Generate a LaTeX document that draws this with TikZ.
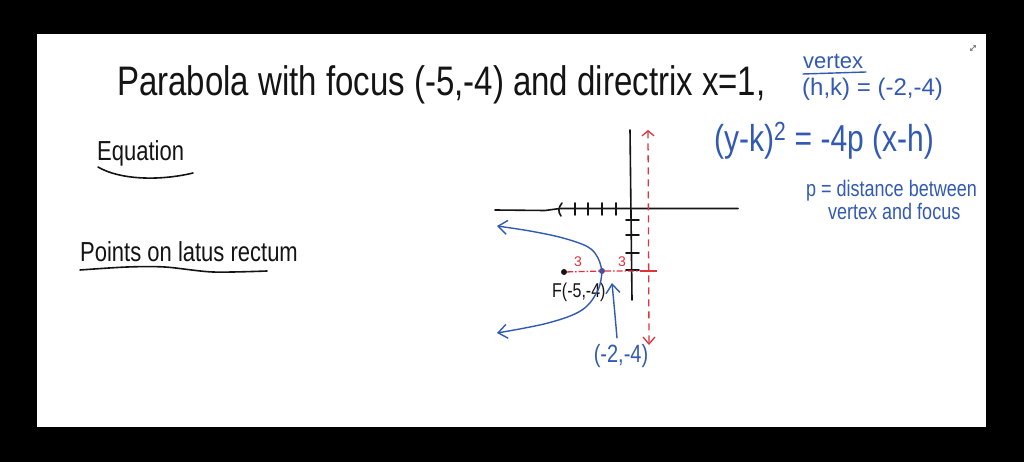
\documentclass[tikz,border=0pt]{standalone}
\usepackage{fontspec}
\setmainfont{Liberation Sans}
\usetikzlibrary{arrows.meta}
\definecolor{ink}{RGB}{20,20,20}
\definecolor{bluepen}{RGB}{50,90,180}
\definecolor{redpen}{RGB}{225,50,60}
\newcommand\handw[1]{\scalebox{1}[1.25]{#1}}
\tikzset{
  blacktext/.style={text=ink, inner sep=0pt, anchor=base west},
  bluetext/.style={text=bluepen, inner sep=0pt, anchor=base west},
  redtext/.style={text=redpen, inner sep=0pt, font=\fontsize{14}{16}\selectfont},
  blackline/.style={draw=ink, line width=1.6pt, line cap=round},
  blueline/.style={draw=bluepen, line width=1.4pt, line cap=round},
  redline/.style={draw=redpen, line width=1.3pt},
  barb/.style={-{Straight Barb[length=9pt,width=14pt]}},
  dotpt/.style={circle, inner sep=0pt, minimum size=6pt}
}
\begin{document}
\begin{tikzpicture}[x=1pt,y=-1pt]
\useasboundingbox (0,0) rectangle (1024,462);
\fill[black] (0,0) rectangle (1024,462);
\fill[white] (37,34) rectangle (986,427);
% corner icon
\draw[gray, line width=0.8pt, {Straight Barb[length=2pt,width=3pt]}-{Straight Barb[length=2pt,width=3pt]}] (970,51) -- (976,45);

% title
\node[blacktext, font=\fontsize{33}{38}\selectfont] (title) at (117,96) {\handw{Parabola with focus (-5,-4) and directrix x=1,}};

% left headings
\node[blacktext, font=\fontsize{22}{26}\selectfont] (eq) at (97,161) {\handw{Equation}};
\draw[blackline] (98,167) .. controls (120,180) and (160,181) .. (193,173);
\node[blacktext, font=\fontsize{22}{26}\selectfont] (pts) at (80,261) {\handw{Points on latus rectum}};
\draw[blackline] plot[smooth] coordinates {(80,270) (127,267) (165,267) (213,272) (267,271)};

% right blue notes
\node[bluetext, font=\fontsize{22}{26}\selectfont] (vtxw) at (803,69) {vertex};
\draw[blueline] (803,74) -- (866,72);
\node[bluetext, font=\fontsize{24}{28}\selectfont] (hk) at (802,96) {(h,k) = (-2,-4)};
\node[bluetext, font=\fontsize{30}{34}\selectfont] (std) at (714,152) {\handw{(y-k)\textsuperscript{2} = -4p (x-h)}};
\node[bluetext, font=\fontsize{18}{22}\selectfont] (pdef) at (806,197) {\handw{p = distance between}};
\node[bluetext, font=\fontsize{18}{22}\selectfont] (pdef2) at (828,219) {\handw{vertex and focus}};

% axes
\draw[blackline] (495,210) -- (545,210.5) .. controls (552,209) .. (560,208.5) -- (738,208.5);
\draw[blackline] (630,130) -- (632,300);
% x ticks
\draw[blackline] (562,203) .. controls (558,208) and (558,212) .. (561,216);
\foreach \tx in {575,588,602,616}
  \draw[blackline] (\tx,203) -- (\tx,215);
% y ticks
\foreach \ty in {220,235,253,270}
  \draw[blackline] (626,\ty) -- (639,\ty);

% directrix
\coordinate (dtop) at (648,130);
\coordinate (dbot) at (649,345);
\draw[redline, dashed, dash pattern=on 7pt off 5pt, {Straight Barb[length=5pt,width=12pt]}-{Straight Barb[length=7pt,width=12pt]}] (dtop) -- (dbot);
\draw[redline] (640,271) -- (657,271);

% focus and vertex
\node[dotpt, fill=ink] (F) at (564,272) {};
\node[dotpt, fill=bluepen!80!red] (V) at (602,271) {};
\coordinate (D) at (648,271);
\draw[redline, dash pattern=on 6pt off 2pt on 1.5pt off 2pt] (F) -- (V) -- (D);
\node[redtext] (three1) at (578,262) {3};
\node[redtext] (three2) at (622,262) {3};
\node[blacktext, font=\fontsize{16}{19}\selectfont] (Flab) at (552,297) {\handw{F(-5,-4)}};

% parabola
\coordinate (ptop) at (497,226);
\coordinate (pbot) at (497,333);
\draw[blueline, barb] plot[smooth, tension=0.6] coordinates {(V) (598,258) (588,247) (563,238) (530,231) (ptop)};
\draw[blueline, barb] plot[smooth, tension=0.6] coordinates {(V) (598,290) (582,310) (548,323) (ptop |- pbot)};

% vertex label
\node[bluetext, anchor=base, font=\fontsize{20}{24}\selectfont] (vlab) at (621,362) {\handw{(-2,-4)}};
\coordinate (varr) at (612,283);
\draw[blueline, barb] (617,338) .. controls (615,315) .. (varr);
\end{tikzpicture}
\end{document}
